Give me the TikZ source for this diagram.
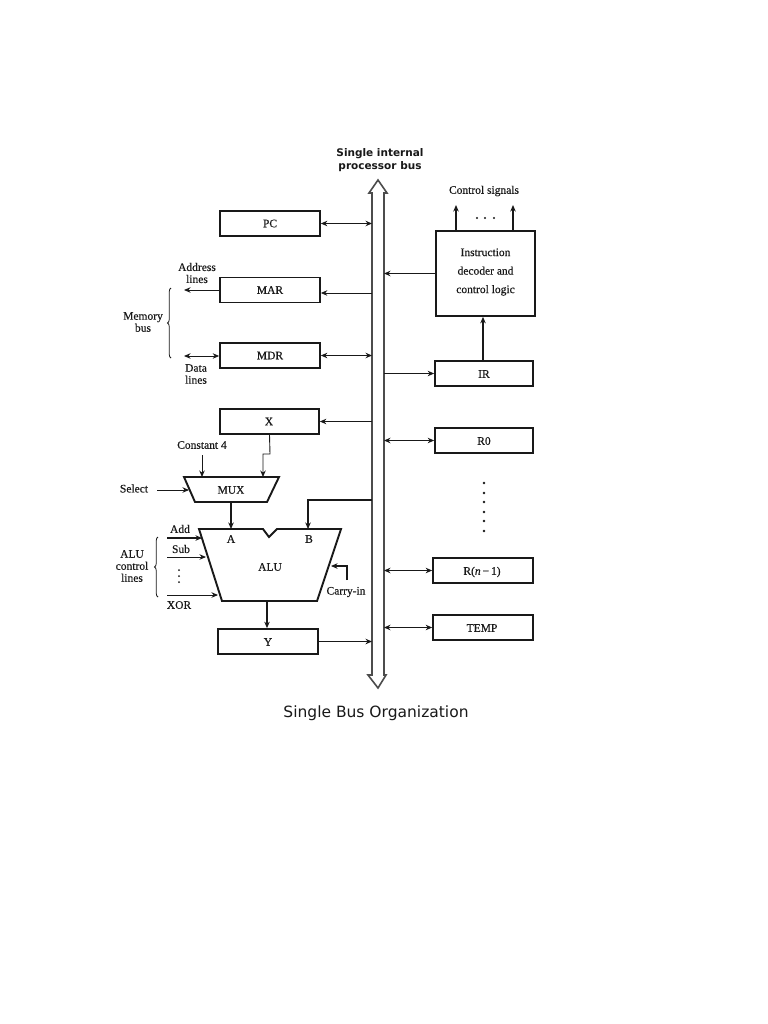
\documentclass[tikz,border=0pt]{standalone}
\usepackage{fontspec}
\setmainfont[FakeBold=0.35]{Liberation Serif}
\newfontfamily\headfont{DejaVu Sans}
\usetikzlibrary{arrows.meta,decorations.pathreplacing}
\tikzset{
  regbox/.style={draw=black!90,line width=1.7bp,rectangle,inner sep=0pt,minimum height=25bp},
  lbl/.style={inner sep=0pt,align=center,text=black!90,font=\fontsize{11.5bp}{12bp}\selectfont},
  wire/.style={draw=black!90,line width=.9bp},
  busline/.style={draw=black!70,line width=1.6bp,fill=white,line join=miter},
  shapeline/.style={draw=black!90,line width=1.9bp,line join=miter},
  bracket/.style={draw=black!90,line width=.8bp,decorate,decoration={brace,amplitude=3.5bp}},
  dot/.style={circle,fill=black!90,inner sep=0pt,minimum size=2.8bp}
}
\begin{document}
\begin{tikzpicture}[x=1bp,y=-1bp,>={Stealth[length=6.5bp,width=5.5bp]}]
%%
  \useasboundingbox[fill=white] (0,0) rectangle (768,1024);
  % bus
  \draw[busline] (378,180) -- (387,193) -- (384,193) -- (384,675) -- (386,675) -- (378,688)
    -- (368,675) -- (372,675) -- (372,193) -- (369,193) -- cycle;
  \coordinate (busw) at (372,400);
  \coordinate (buse) at (384,400);
  \node (bustitle) at (380,160) [lbl,font=\headfont\bfseries\fontsize{10.5bp}{13bp}\selectfont] {Single internal\\processor bus};
  \node (title) at (376,713) [lbl,font=\headfont\fontsize{15.5bp}{16bp}\selectfont] {Single Bus Organization};
  % left registers
  \node (pc) at (270,223.5) [regbox,minimum width=100bp] {};
  \node (pctext) at (270,223.5) [lbl] {PC};
  \node (mar) at (270,290) [regbox,minimum width=100bp] {};
  \node (martext) at (270,290) [lbl] {MAR};
  \node (mdr) at (270,355.5) [regbox,minimum width=100bp] {};
  \node (mdrtext) at (270,355.5) [lbl] {MDR};
  \node (x) at (269.5,421.5) [regbox,minimum width=99bp] {};
  \node (xtext) at (269,421.5) [lbl] {X};
  \node (y) at (268,641.5) [regbox,minimum width=100bp] {};
  \node (ytext) at (268,642) [lbl] {Y};
  % right registers
  \node (dec) at (485.5,273.5) [regbox,minimum width=99bp,minimum height=85bp] {};
  \node (dectext) at (485.5,272) [lbl,font=\fontsize{11.5bp}{18.5bp}\selectfont] {Instruction\\decoder and\\control logic};
  \node (ir) at (484,373.5) [regbox,minimum width=98bp] {};
  \node (irtext) at (484,374) [lbl] {IR};
  \node (r0) at (484,440.5) [regbox,minimum width=98bp] {};
  \node (r0text) at (484,441) [lbl] {R0};
  \node (rn) at (483,570.5) [regbox,minimum width=100bp] {};
  \node (rntext) at (482,572) [lbl] {R(\textit{n}\,−\,1)};
  \node (temp) at (483,627.5) [regbox,minimum width=100bp] {};
  \node (temptext) at (482,628) [lbl] {TEMP};
  % mux
  \draw[shapeline] (184,477) coordinate (muxa) -- (279,477) coordinate (muxb)
    -- (267,502) coordinate (muxc) -- (195,502) coordinate (muxd) -- cycle;
  \node (muxtext) at (231,490) [lbl] {MUX};
  % alu
  \draw[shapeline] (199,529) -- (263,529) -- (269,537) -- (277,529) -- (341,529)
    -- (317,601) -- (222,601) -- cycle;
  \node (alutext) at (270,567) [lbl] {ALU};
  \node (atext) at (231,539) [lbl] {A};
  \node (btext) at (309,539) [lbl] {B};
  % bus links
  \draw[wire,<->] (pc.east) -- (pc.east -| busw);
  \coordinate (marbus) at (372,293);
  \draw[wire,->] (marbus) -- (marbus -| mar.east);
  \draw[wire,<->] (mdr.east) -- (mdr.east -| busw);
  \draw[wire,->] (x.east -| busw) -- (x.east);
  \draw[wire,line width=1.3bp,->] (y.east) -- (y.east -| busw);
  \draw[wire,line width=1.3bp,->] (dec.west) -- (dec.west -| buse);
  \draw[wire,->] (ir.west -| buse) -- (ir.west);
  \draw[wire,<->] (r0.west) -- (r0.west -| buse);
  \draw[wire,<->] (rn.west) -- (rn.west -| buse);
  \draw[wire,<->] (temp.west) -- (temp.west -| buse);
  % control part
  \coordinate (ctla) at (456,205);
  \coordinate (ctlb) at (513,205);
  \draw[wire,line width=1.2bp,->] (ctla |- dec.north) -- (ctla);
  \draw[wire,line width=1.2bp,->] (ctlb |- dec.north) -- (ctlb);
  \node (ctltext) at (484,191) [lbl] {Control signals};
  \foreach \i/\xpos in {1/477,2/485,3/494}
    \node (ctldot\i) at (\xpos,218) [dot,minimum size=2.4bp] {};
  \draw[wire,line width=1.2bp,->] (ir.north -| 483,0) -- (dec.south -| 483,0);
  \foreach \i/\ypos in {1/483,2/493,3/502,4/512,5/521,6/531}
    \node (regdot\i) at (484,\ypos) [dot] {};
  % memory side
  \coordinate (addr) at (184,290);
  \coordinate (data) at (184,356);
  \draw[wire,->] (mar.west) -- (addr);
  \draw[wire,<->] (data) -- (mdr.west |- data);
  \node (addrtext) at (197,273) [lbl] {Address\\lines};
  \node (datatext) at (196,374) [lbl] {Data\\lines};
  \node (membus) at (143,322) [lbl] {Memory\\bus};
  \coordinate (memtop) at (171,288);
  \coordinate (membot) at (171,358);
  \draw[bracket] (membot) -- (memtop);
  % mux and alu inputs
  \coordinate (const) at (202,455);
  \coordinate (sel) at (157,490);
  \coordinate (seltip) at (189,490);
  \draw[wire,->] (const) -- (const |- muxa);
  \node (consttext) at (202,445) [lbl] {Constant 4};
  \draw[wire,->] (sel) -- (seltip);
  \node (seltext) at (134,488.5) [lbl] {Select};
  \draw[wire,->] (x.south) -- (270,454) -- (263,454) -- (263,477);
  \draw[wire,line width=1.2bp,->] (231,502) -- (231,529);
  \coordinate (bin) at (308,500);
  \draw[wire,line width=1.2bp,->] (bin -| busw) -- (bin) -- (308,529);
  \draw[wire,line width=1.2bp,->] (267,601) -- (y.north -| 267,0);
  \coordinate (addin) at (167,538);
  \coordinate (subin) at (167,557);
  \coordinate (xorin) at (167,595);
  \draw[wire,line width=1.3bp,->] (addin) -- (202,538);
  \draw[wire,->] (subin) -- (206,557);
  \draw[wire,->] (xorin) -- (218,595);
  \node (addtext) at (180,529) [lbl] {Add};
  \node (subtext) at (181,549) [lbl] {Sub};
  \node (xortext) at (179,605) [lbl] {XOR};
  \foreach \i/\ypos in {1/570,2/576,3/582}
    \node (ctrldot\i) at (179,\ypos) [dot,minimum size=2bp] {};
  \coordinate (alutop) at (158,537);
  \coordinate (alubot) at (158,597);
  \draw[bracket] (alubot) -- (alutop);
  \node (alulines) at (132,566) [lbl] {ALU\\control\\lines};
  \coordinate (carry) at (347,580);
  \draw[wire,line width=1.2bp,->] (carry) -- (347,566) -- (331,566);
  \node (carrytext) at (346,592) [lbl] {Carry-in};
%
\end{tikzpicture}
\end{document}
